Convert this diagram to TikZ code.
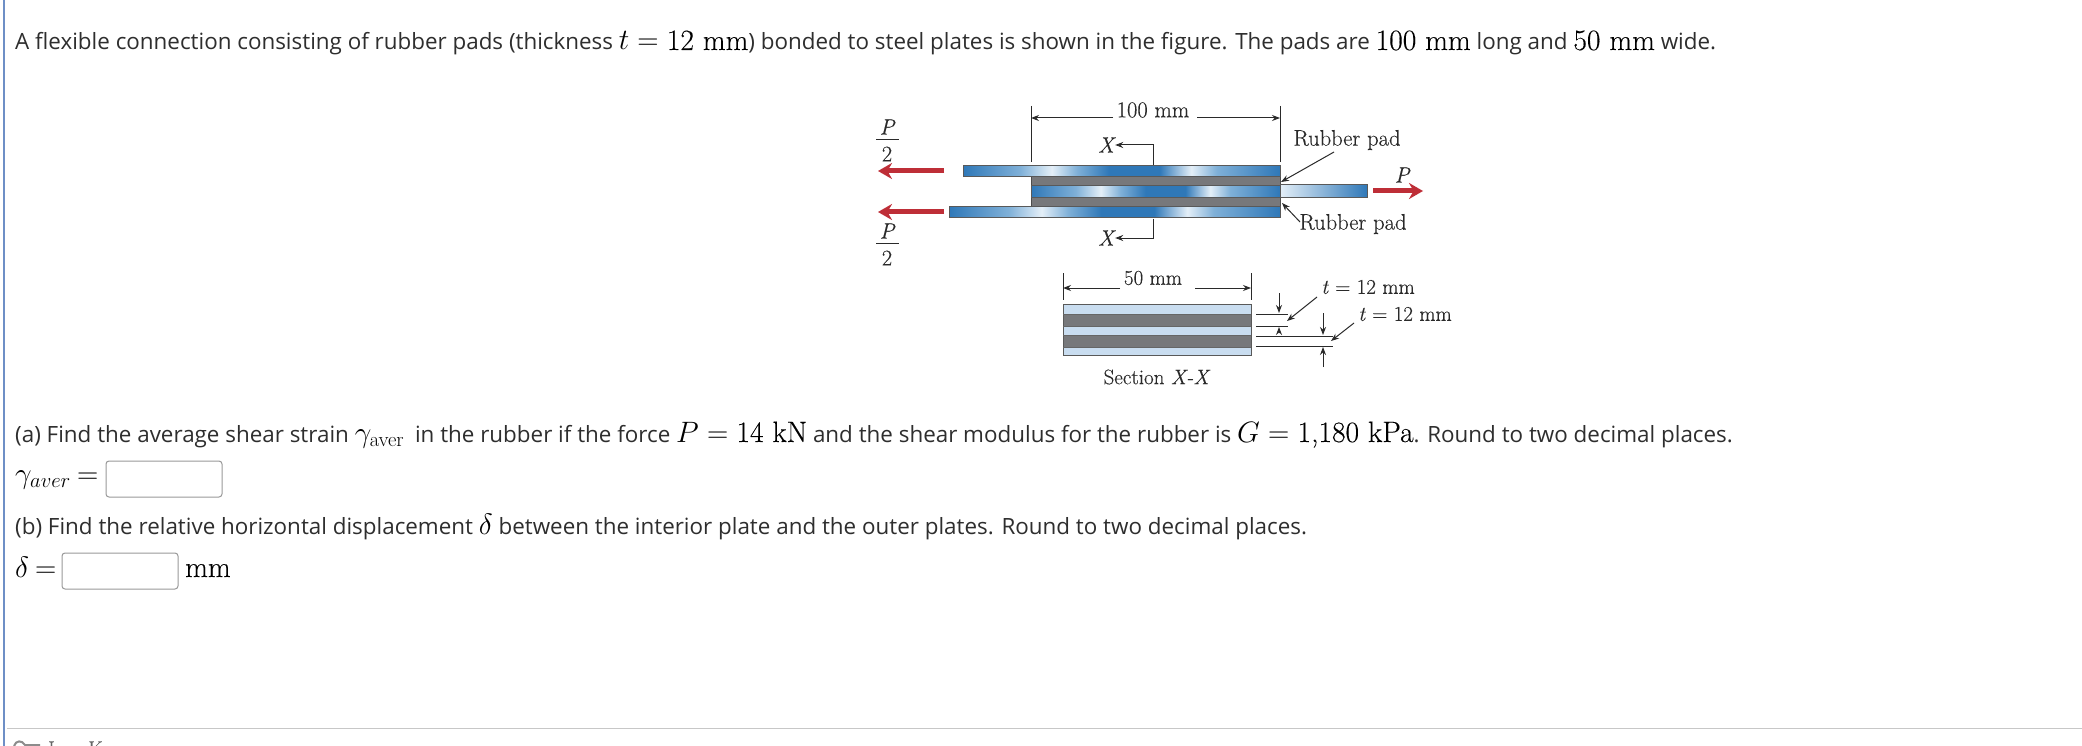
\RequirePackage{fix-cm}
\documentclass[tikz,border=0pt]{standalone}
\usepackage[no-math]{fontspec}
\setmainfont{Open Sans}
\newfontfamily\figfont[FakeBold=0.25]{Latin Modern Roman}
\newfontfamily\unitfont[FakeBold=0.25]{Latin Modern Roman}
\usetikzlibrary{arrows.meta}
\definecolor{platedark}{HTML}{2F78B8}
\definecolor{platemid}{HTML}{7FB0D8}
\definecolor{platelight}{HTML}{E4EFF8}
\definecolor{padgray}{HTML}{77787B}
\definecolor{secblue}{HTML}{C9DDF0}
\definecolor{forcered}{HTML}{BE2E37}
\definecolor{frameblue}{HTML}{6E8FC6}
\definecolor{inkgray}{HTML}{2A2A2A}
\pgfdeclarehorizontalshading{plateshade}{100bp}{
 color(0bp)=(platedark); color(25bp)=(platedark); color(34bp)=(platemid); color(39bp)=(platelight); color(43bp)=(platemid); color(48bp)=(platedark); color(56bp)=(platedark); color(61bp)=(platelight); color(65bp)=(platemid); color(75bp)=(platedark); color(100bp)=(platedark)}
\tikzset{
 body/.style={anchor=base west,inner sep=0pt,font=\fontsize{22.4}{28}\selectfont,text=black!82},
 fig/.style={inner sep=0pt,font=\figfont\fontsize{21}{24}\selectfont,text=inkgray},
 figtop/.style={fig,font=\figfont\fontsize{22.5}{24}\selectfont},
 figit/.style={fig,font=\figfont\itshape\fontsize{22}{24}\selectfont},
 platebox/.style={shading=plateshade,draw=black!65,line width=1pt},
 padbox/.style={fill=padgray,draw=black!70,line width=1pt},
 dim/.style={draw=inkgray,line width=1pt},
 dimarrow/.style={dim,-{Stealth[length=8pt,width=6pt]}},
 force/.style={draw=forcered,line width=5pt,-{Stealth[length=14pt,width=16pt]}},
 answerbox/.style={draw=black!40,fill=white,rounded corners=3pt,line width=1pt},
}
\newcommand{\mth}[1]{{\fontsize{29.5}{30}\selectfont\color{black}$#1$}}
\newcommand{\unt}[1]{\mbox{\unitfont #1}}
\begin{document}
\begin{tikzpicture}[x=1pt,y=-1pt]
\useasboundingbox (0,0) rectangle (2082,746);
\fill[white] (0,0) rectangle (2082,746);
\coordinate (leftT) at (4,0); \coordinate (leftB) at (4,746);
\draw[frameblue,line width=1.4pt] (leftT) -- (leftB);
\coordinate (ruleL) at (7,728); \coordinate (ruleR) at (2082,728);
\draw[black!22,line width=1pt] (ruleL) -- (ruleR);
% question text
\node[body] (line1) at (15,50) {A flexible connection consisting of rubber pads (thickness \mth{t=\unt{12 mm}}) bonded to steel plates is shown in the figure. The pads are \mth{\unt{100 mm}} long and \mth{\unt{50 mm}} wide.};
\node[body] (linea) at (15,442) {(a) Find the average shear strain \mth{\gamma_{\mathrm{aver}}\,} in the rubber if the force \mth{P=\unt{14 kN}} and the shear modulus for the rubber is \mth{G=\unt{1,180 kPa}}. Round to two decimal places.};
\node[body] (lineb) at (15,534) {(b) Find the relative horizontal displacement \mth{\delta} between the interior plate and the outer plates. Round to two decimal places.};
\node[body] (gam) at (15,483) {\mth{\gamma_{aver}}};
\node[body] (gameq) at (77,483) {\mth{=}};
\node[answerbox,minimum width=116pt,minimum height=36pt,inner sep=0pt] (boxa) at (164,479) {};
\node[body] (del) at (15,577) {\mth{\delta}};
\node[body] (deleq) at (35,577) {\mth{=}};
\node[answerbox,minimum width=116pt,minimum height=36pt,inner sep=0pt] (boxb) at (120,571) {};
\node[body] (mmunit) at (185,577) {\mth{\unt{mm}}};
\node[anchor=base west,inner sep=0pt,font=\figfont\fontsize{20}{22}\selectfont,text=black!60] (iconkey) at (48,755) {Icon Key};
\draw[black!45,line width=2pt] (14,746) .. controls (16,740) and (22,740) .. (25,745) -- (40,745);
% plates and pads
\draw[padbox] (1031,177) rectangle (1280,186);
\draw[padbox] (1031,198) rectangle (1280,207);
\shade[platebox] (963,166) rectangle (1280,177);
\shade[platebox] (1031,186) rectangle (1280,198);
\shade[left color=platelight,right color=platedark,draw=black!65,line width=1pt] (1280,185) rectangle (1367,198);
\shade[platebox] (949,207) rectangle (1280,218);
% 100 mm dimension
\node[figtop] (d100) at (1153,110) {100 mm};
\coordinate (a1) at (1031,106); \coordinate (a2) at (1031,162);
\coordinate (b1) at (1280,106); \coordinate (b2) at (1280,162);
\draw[dim] (a1) -- (a2); \draw[dim] (b1) -- (b2);
\coordinate (aL) at (1031,118); \coordinate (aM) at (1113,118);
\coordinate (bM) at (1197,118); \coordinate (bR) at (1280,118);
\draw[dimarrow] (aM) -- (aL); \draw[dimarrow] (bM) -- (bR);
% section marks
\node[figit] (x1) at (1106,145) {X};
\node[figit] (x2) at (1106,238) {X};
\coordinate (s1) at (1153,165); \coordinate (s2) at (1153,219);
\draw[dimarrow] (s1) |- ([xshift=1pt]x1.east);
\draw[dimarrow] (s2) |- ([xshift=1pt]x2.east);
% forces
\node[figit] (pt1) at (887,127) {P};
\node[figtop] (pt2) at (887,154) {2};
\coordinate (ptL) at (876,140); \coordinate (ptR) at (899,140);
\draw[dim] (ptL) -- (ptR);
\node[figit] (pb1) at (887,231) {P};
\node[figtop] (pb2) at (887,258) {2};
\coordinate (pbL) at (876,243); \coordinate (pbR) at (899,243);
\draw[dim] (pbL) -- (pbR);
\node[figit] (pr) at (1402,175) {P};
\coordinate (f1a) at (944,171); \coordinate (f1b) at (878,171);
\coordinate (f2a) at (944,212); \coordinate (f2b) at (878,212);
\coordinate (f3a) at (1373,191); \coordinate (f3b) at (1423,191);
\draw[force] (f1a) -- (f1b); \draw[force] (f2a) -- (f2b); \draw[force] (f3a) -- (f3b);
% rubber pad labels
\node[figtop] (rp1) at (1347,140) {Rubber pad};
\node[figtop] (rp2) at (1353,224) {Rubber pad};
\coordinate (rp1t) at (1281,182); \coordinate (rp1s) at (1334,152);
\coordinate (rp2t) at (1282,203); \coordinate (rp2s) at (1300,222);
\draw[dimarrow] (rp1s) -- (rp1t); \draw[dimarrow] (rp2s) -- (rp2t);
% section
\fill[secblue] (1063,304) rectangle (1251,355);
\fill[padgray] (1063,314) rectangle (1251,326);
\fill[padgray] (1063,335) rectangle (1251,347);
\draw[black!65,line width=1pt] (1063,304) rectangle (1251,355);
\draw[black!60,line width=0.8pt] (1063,314) -- (1251,314) (1063,326) -- (1251,326) (1063,335) -- (1251,335) (1063,347) -- (1251,347);
\node[fig] (d50) at (1153,278) {50 mm};
\coordinate (c1) at (1063,273); \coordinate (c2) at (1063,300);
\coordinate (e1) at (1251,273); \coordinate (e2) at (1251,300);
\draw[dim] (c1) -- (c2); \draw[dim] (e1) -- (e2);
\coordinate (cL) at (1063,288); \coordinate (cM) at (1120,288);
\coordinate (eM) at (1195,288); \coordinate (eR) at (1251,288);
\draw[dimarrow] (cM) -- (cL); \draw[dimarrow] (eM) -- (eR);
\node[fig] (sec) at (1157,377) {Section \textit{X-X}};
% thickness
\coordinate (t1a) at (1256,314); \coordinate (t1b) at (1288,314);
\coordinate (t2a) at (1256,326); \coordinate (t2b) at (1288,326);
\coordinate (t3a) at (1256,336); \coordinate (t3b) at (1333,336);
\coordinate (t4a) at (1256,346); \coordinate (t4b) at (1333,346);
\draw[dim] (t1a) -- (t1b); \draw[dim] (t2a) -- (t2b);
\draw[dim] (t3a) -- (t3b); \draw[dim] (t4a) -- (t4b);
\coordinate (u1) at (1279,293); \coordinate (u2) at (1279,313);
\coordinate (u3) at (1279,333); \coordinate (u4) at (1279,327);
\coordinate (u5) at (1323,313); \coordinate (u6) at (1323,335);
\coordinate (u7) at (1323,367); \coordinate (u8) at (1323,347);
\draw[dimarrow] (u1) -- (u2); \draw[dimarrow] (u3) -- (u4);
\draw[dimarrow] (u5) -- (u6); \draw[dimarrow] (u7) -- (u8);
\node[fig] (t1) at (1368,287) {\textit{t} = 12 mm};
\node[fig] (t2) at (1405,314) {\textit{t} = 12 mm};
\coordinate (l1s) at (1317,297); \coordinate (l1t) at (1287,321);
\coordinate (l2s) at (1354,323); \coordinate (l2t) at (1331,341);
\draw[dimarrow] (l1s) -- (l1t); \draw[dimarrow] (l2s) -- (l2t);
\end{tikzpicture}
\end{document}
